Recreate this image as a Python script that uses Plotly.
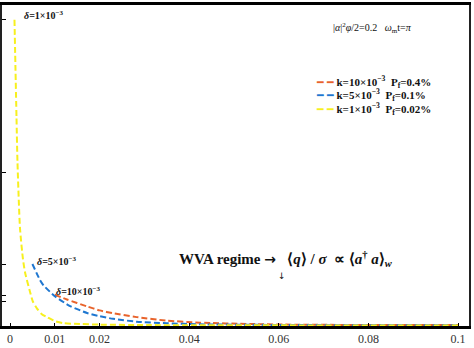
import plotly.graph_objects as go

# Series: signal vs. coupling, one curve per k (delta = starting coupling)
x_k1 = [0.001, 0.00145, 0.00167, 0.00223, 0.0029, 0.00335, 0.00446, 0.0051, 0.006,
        0.0071, 0.0083, 0.01, 0.0118, 0.0156, 0.02, 0.031, 0.042, 0.065, 0.1]
y_k1 = [20.0, 13.6, 10.7, 6.39, 4.35, 3.51, 2.24, 1.6, 1.15,
        0.77, 0.58, 0.32, 0.19, 0.13, 0.09, 0.06, 0.05, 0.04, 0.03]

x_k5 = [0.005, 0.0067, 0.0075, 0.01, 0.0134, 0.0172, 0.02, 0.023, 0.0283,
        0.035, 0.0424, 0.0536, 0.0647, 0.0826, 0.1]
y_k5 = [4.05, 3.0, 2.65, 1.95, 1.3, 0.85, 0.64, 0.47, 0.28,
        0.18, 0.11, 0.08, 0.06, 0.05, 0.04]

x_k10 = [0.01, 0.0127, 0.0172, 0.02, 0.023, 0.0283, 0.035, 0.0424, 0.0536,
         0.0647, 0.0826, 0.1]
y_k10 = [2.04, 1.73, 1.28, 1.02, 0.83, 0.58, 0.35, 0.22, 0.13,
         0.08, 0.07, 0.06]

x_ticks = [0, 0.01, 0.02, 0.04, 0.06, 0.08, 0.1]
x_tick_text = ["0", "0.01", "0.02", "0.04", "0.06", "0.08", "0.1"]
y_ticks = [20, 10, 4, 2, 1.6]

RED = "#E8632B"
BLUE = "#1F77D0"
YELLOW = "#F7F01E"
SERIF = "Liberation Serif"

fig = go.Figure()
for xs, ys, col in [(x_k10, y_k10, RED), (x_k5, y_k5, BLUE), (x_k1, y_k1, YELLOW)]:
    fig.add_trace(go.Scatter(
        x=xs, y=ys, mode="lines", showlegend=False,
        line=dict(color=col, width=2, dash="6px,3px", shape="spline", smoothing=0.6),
    ))

W, H = 474, 348
L, R, T, B = 2, 5, 2, 18
pw, ph = W - L - R, H - T - B


def px(xp):
    return (xp - L) / pw


def py(yp):
    return (H - B - yp) / ph


annos = []
# delta labels next to each curve start
for x0, y0, txt in [(0.0027, 20.3, "<b><i>δ</i>=1×10<sup>−3</sup></b>"),
                    (0.0055, 4.25, "<b><i>δ</i>=5×10<sup>−3</sup></b>"),
                    (0.0098, 2.3, "<b><i>δ</i>=10×10<sup>−3</sup></b>")]:
    annos.append(dict(x=x0, y=y0, xref="x", yref="y", text=txt, showarrow=False,
                      xanchor="left", yanchor="middle",
                      font=dict(family=SERIF, size=10, color="#111")))

# parameters
annos.append(dict(x=px(372), y=py(25), xref="paper", yref="paper",
                  text="|<i>α</i>|<sup>2</sup><i>φ</i>/2=0.2   <i>ω</i><sub>m</sub>t=<i>π</i>",
                  showarrow=False, xanchor="center", yanchor="middle",
                  font=dict(family=SERIF, size=10, color="#111")))

# legend rows
legend_rows = [(RED, "k=10×10<sup>−3</sup>  P<sub>f</sub>=0.4%", 81),
               (BLUE, "k=5×10<sup>−3</sup>  P<sub>f</sub>=0.1%", 94),
               (YELLOW, "k=1×10<sup>−3</sup>  P<sub>f</sub>=0.02%", 108)]
for col, txt, yy in legend_rows:
    annos.append(dict(x=px(314), y=py(yy), xref="paper", yref="paper",
                      text=f"<span style='color:{col}'>━ ━</span> <b>{txt}</b>",
                      showarrow=False, xanchor="left", yanchor="middle",
                      font=dict(family=SERIF, size=11, color="#111")))

# regime note
annos.append(dict(x=px(177), y=py(262), xref="paper", yref="paper",
                  text="<b>WVA regime&nbsp;<span style='font-family:DejaVu Sans;font-size:14px'>→</span>&nbsp;&nbsp;&nbsp;⟨<i>q</i>⟩&nbsp;/&nbsp;<i>σ</i>&nbsp;&nbsp;∝&nbsp;⟨<i>a</i><sup>†</sup>&nbsp;<i>a</i>⟩<sub><i>w</i></sub></b>",
                  showarrow=False, xanchor="left", yanchor="middle",
                  font=dict(family=SERIF, size=15, color="#111")))
annos.append(dict(x=px(282), y=py(279), xref="paper", yref="paper",
                  text="↓", showarrow=False, xanchor="center", yanchor="middle",
                  font=dict(family="DejaVu Sans", size=9, color="#111")))

fig.update_layout(
    width=W, height=H,
    margin=dict(l=L, r=R, t=T, b=B, pad=0),
    paper_bgcolor="white", plot_bgcolor="white",
    annotations=annos,
    xaxis=dict(range=[(L - 10) / 4480, (W - R - 10) / 4480],
               tickvals=x_ticks, ticktext=x_tick_text, ticks="inside", ticklen=3,
               tickcolor="#000", showgrid=False, zeroline=False,
               showline=True, linecolor="#000", linewidth=3, mirror=True,
               tickfont=dict(family=SERIF, size=12, color="#333")),
    yaxis=dict(range=[0, ph * 0.0639], tickvals=y_ticks, showticklabels=False,
               ticks="inside", ticklen=4, tickcolor="#000",
               showgrid=False, zeroline=False,
               showline=True, linecolor="#222", linewidth=2, mirror=True),
)

fig.write_html("out.html")
